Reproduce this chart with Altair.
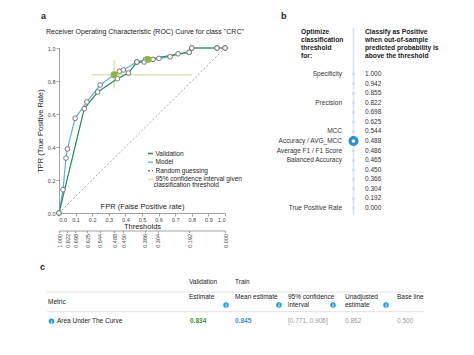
import altair as alt
import pandas as pd

FONT = "Liberation Sans"

# ---------------- data ----------------
model_fpr = [0.0, 0.024, 0.042, 0.051, 0.097, 0.168, 0.248, 0.332, 0.364, 0.388, 0.469, 0.521, 0.566, 0.602, 0.669, 0.717, 0.784, 0.800, 0.952, 1.0]
model_tpr = [0.0, 0.141, 0.333, 0.388, 0.574, 0.673, 0.776, 0.838, 0.859, 0.867, 0.915, 0.931, 0.931, 0.937, 0.947, 0.965, 0.974, 1.0, 1.0, 1.0]
val_fpr = [0.0, 0.152, 0.233, 0.352, 0.418, 0.469, 0.513, 0.536, 0.784, 0.800, 0.952, 1.0]
val_tpr = [0.0, 0.632, 0.733, 0.814, 0.848, 0.915, 0.915, 0.931, 0.974, 1.0, 1.0, 1.0]
opt_fpr = [0.332, 0.536]
opt_tpr = [0.838, 0.931]
ci_fpr_low, ci_fpr_high, ci_at_tpr = 0.20, 0.80, 0.838
ci_tpr_low, ci_tpr_high, ci_at_fpr = 0.755, 0.927, 0.332

series_names = ["Validation", "Model", "Random guessing",
                "95% confidence interval given classification threshold"]
series_colors = ["#2a8660", "#5ab3d3", "#8a7a6a", "#d9e6b4"]
series_dash = [[1, 0], [1, 0], [2, 2], [1, 0]]

thr_axis_fpr = [0.0, 0.051, 0.097, 0.17, 0.245, 0.332, 0.388, 0.517, 0.596, 0.784, 1.0]
thr_axis_labels = ["1.000", "0.822", "0.698", "0.625", "0.544", "0.488", "0.450",
                   "0.366", "0.304", "0.192", "0.000"]

thresholds = ["1.000", "0.942", "0.855", "0.822", "0.698", "0.625", "0.544", "0.488",
              "0.486", "0.465", "0.450", "0.366", "0.304", "0.192", "0.000"]
metric_labels = ["Specificity", "", "", "Precision", "", "", "MCC", "Accuracy / AVG_MCC",
                 "Average F1 / F1 Score", "Balanced Accuracy", "", "", "", "", "True Positive Rate"]
selected_row = 7

metric_name = "Area Under The Curve"
val_estimate = "0.834"
train_mean = "0.845"
ci_text = "[0.771, 0.906]"
unadjusted = "0.862"
baseline = "0.500"

# ---------------- frames ----------------
lines_df = pd.DataFrame({
    "fpr": model_fpr + val_fpr,
    "tpr": model_tpr + val_tpr,
    "series": ["Model"] * len(model_fpr) + ["Validation"] * len(val_fpr),
    "order": list(range(len(model_fpr))) + list(range(len(val_fpr))),
})
diag_df = pd.DataFrame({"fpr": [0, 1], "tpr": [0, 1], "series": ["Random guessing"] * 2})
ci_h_df = pd.DataFrame({"fpr": [ci_fpr_low], "fpr2": [ci_fpr_high], "tpr": [ci_at_tpr], "series": [series_names[3]]})
ci_v_df = pd.DataFrame({"fpr": [ci_at_fpr], "tpr": [ci_tpr_low], "tpr2": [ci_tpr_high], "series": [series_names[3]]})
opt_df = pd.DataFrame({"fpr": opt_fpr, "tpr": opt_tpr})
thr_df = pd.DataFrame({"fpr": thr_axis_fpr})
rows_df = pd.DataFrame({"row": list(range(len(thresholds))), "threshold": thresholds, "metric": metric_labels})
lab_df = rows_df[rows_df["metric"] != ""]
sel_df = rows_df[rows_df["row"] == selected_row]

# ---------------- scales / encodings ----------------
xs = alt.Scale(domain=[0, 1], nice=False)
ys = alt.Scale(domain=[0, 1], nice=False)
row_scale = alt.Scale(domain=[0, len(thresholds) - 1], range=[26, 160], nice=False, zero=False)

legend = alt.Legend(
    title=None, orient="none", legendX=88, legendY=102, symbolType="stroke",
    symbolSize=25, symbolStrokeWidth=1.4, labelFontSize=6.5, labelFont=FONT,
    labelColor="#222", rowPadding=1.6, labelOffset=1.5, padding=0,
    labelExpr="datum.label == '95% confidence interval given classification threshold' ? '95% confidence interval given' : datum.label",
    labelBaseline="middle", labelLimit=200,
)
color_enc = alt.Color("series:N", scale=alt.Scale(domain=series_names, range=series_colors), legend=legend)
dash_enc = alt.StrokeDash("series:N", scale=alt.Scale(domain=series_names, range=series_dash), legend=legend)

fpr_axis = alt.Axis(values=[i / 10 for i in range(11)], format=".1f", title="FPR (False Positive rate)",
                    titleY=-3, titleBaseline="bottom", titleFontSize=7.5, titleFontWeight="normal",
                    labelFontSize=5.5, tickSize=3, labelPadding=1, grid=False)
tpr_axis = alt.Axis(values=[0, 0.2, 0.4, 0.6, 0.8, 1.0], format=".1f", title="TPR (True Positive Rate)",
                    titleFontSize=7.5, titleFontWeight="normal", labelFontSize=5.5, tickSize=3,
                    labelPadding=1, titlePadding=3, grid=False)
label_expr = "{}[indexof({}, datum.value)]".format(
    "[" + ",".join("'" + s + "'" for s in thr_axis_labels) + "]",
    "[" + ",".join(str(v) for v in thr_axis_fpr) + "]")
thr_axis = alt.Axis(values=thr_axis_fpr, orient="bottom", offset=17.5, labelExpr=label_expr,
                    labelAngle=270, labelFontSize=5.5, tickSize=2, labelPadding=1,
                    title="Thresholds", titleY=0, titleBaseline="bottom", titleFontSize=7.5,
                    titleFontWeight="normal", grid=False, labelOverlap=False)

X_none = lambda f: alt.X(f, scale=xs, axis=None)
Y_none = lambda f: alt.Y(f, scale=ys, axis=None)

# ---------------- panel a ----------------
diag = alt.Chart(diag_df).mark_line(strokeWidth=0.7).encode(
    x=alt.X("fpr:Q", scale=xs, axis=fpr_axis), y=alt.Y("tpr:Q", scale=ys, axis=tpr_axis),
    color=color_enc, strokeDash=dash_enc)
ci_h = alt.Chart(ci_h_df).mark_rule(strokeWidth=1.5).encode(
    x=X_none("fpr:Q"), x2="fpr2:Q", y=Y_none("tpr:Q"), color=color_enc, strokeDash=dash_enc)
ci_v = alt.Chart(ci_v_df).mark_rule(strokeWidth=1.5).encode(
    x=X_none("fpr:Q"), y=Y_none("tpr:Q"), y2="tpr2:Q", color=color_enc, strokeDash=dash_enc)
curves = alt.Chart(lines_df).mark_line(strokeWidth=1.2).encode(
    x=X_none("fpr:Q"), y=Y_none("tpr:Q"), order="order:Q", color=color_enc, strokeDash=dash_enc)
pts = alt.Chart(lines_df).mark_point(filled=True, fill="white", stroke="#6a6a6a", size=22,
                                     strokeWidth=0.9, opacity=1).encode(
    x=X_none("fpr:Q"), y=Y_none("tpr:Q"))
opt = alt.Chart(opt_df).mark_circle(size=48, color="#8ab64a", opacity=1).encode(
    x=X_none("fpr:Q"), y=Y_none("tpr:Q"))
thr = alt.Chart(thr_df).mark_point(opacity=0).encode(
    x=alt.X("fpr:Q", scale=xs, axis=thr_axis), y=alt.value(0))


def txt(text, x, y, size=7.0, weight="normal", align="left", baseline="middle", color="#222", line_height=8):
    return alt.Chart(pd.DataFrame({"k": [0]})).mark_text(
        align=align, baseline=baseline, fontSize=size, fontWeight=weight, color=color,
        lineHeight=line_height, font=FONT).encode(x=alt.value(x), y=alt.value(y), text=alt.value(text))


title_a = txt('Receiver Operating Characteristic (ROC) Curve for class "CRC"', 86, -16, size=7, align="center")
label_a = txt("a", -18, -32, size=9, weight="bold")
legend_line2 = txt("classification threshold", 94.5, 137, size=6.5)

# ---------------- panel b ----------------
label_b = txt("b", 222, -32, size=9, weight="bold")
head_l = txt(["Optimize", "classification", "threshold", "for:"], 242, -19.5, size=6.7, weight="bold", baseline="top")
head_r = txt(["Classify as Positive", "when out-of-sample", "predicted probability is", "above the threshold"],
             306, -19.5, size=6.7, weight="bold", baseline="top")
vline = alt.Chart(pd.DataFrame({"k": [0]})).mark_rule(color="#d2e3f2", strokeWidth=1.5).encode(
    x=alt.value(294.5), y=alt.value(-20), y2=alt.value(167))
row_dots = alt.Chart(rows_df).mark_circle(size=9, color="#c9def1", opacity=1).encode(
    x=alt.value(294.5), y=alt.Y("row:Q", scale=row_scale, axis=None))
sel_outer = alt.Chart(sel_df).mark_circle(size=100, color="#2b8bd3", opacity=1).encode(
    x=alt.value(294.5), y=alt.Y("row:Q", scale=row_scale, axis=None))
sel_inner = alt.Chart(sel_df).mark_circle(size=14, color="white", opacity=1).encode(
    x=alt.value(294.5), y=alt.Y("row:Q", scale=row_scale, axis=None))
row_vals = alt.Chart(rows_df).mark_text(align="left", baseline="middle", fontSize=6.5, color="#333", font=FONT).encode(
    x=alt.value(306), y=alt.Y("row:Q", scale=row_scale, axis=None), text="threshold:N")
row_labs = alt.Chart(lab_df).mark_text(align="right", baseline="middle", fontSize=6.5, color="#333", font=FONT).encode(
    x=alt.value(283), y=alt.Y("row:Q", scale=row_scale, axis=None), text="metric:N")

# ---------------- panel c ----------------
label_c = txt("c", -19, 219, size=9, weight="bold")


def hline(y):
    return alt.Chart(pd.DataFrame({"k": [0]})).mark_rule(color="#e2e2e2", strokeWidth=1).encode(
        x=alt.value(-12), x2=alt.value(365), y=alt.value(y))


def icon(x, y):
    c = alt.Chart(pd.DataFrame({"k": [0]})).mark_circle(size=30, color="#1f9bd8", opacity=1).encode(
        x=alt.value(x), y=alt.value(y))
    t = txt("i", x, y + 0.3, size=5, weight="bold", align="center", color="white")
    return [c, t]


table = [
    txt("Validation", 130, 234, size=6.5),
    txt("Train", 176, 234, size=6.5),
    hline(244),
    txt("Metric", -11, 253.7, size=6.5),
    txt("Estimate", 130, 249, size=6.5),
    txt("Mean estimate", 176, 249, size=6.5),
    txt(["95% confidence", "interval"], 229, 246, size=6.5, baseline="top"),
    txt(["Unadjusted", "estimate"], 286, 246, size=6.5, baseline="top"),
    txt("Base line", 338, 249, size=6.5),
    hline(263.7),
    txt(metric_name, -2, 273.3, size=6.5),
    txt(val_estimate, 131, 273.3, size=6.5, weight="bold", color="#3a8f3e"),
    txt(train_mean, 176, 273.3, size=6.5, weight="bold", color="#4a8fcc"),
    txt(ci_text, 229, 273.3, size=6.5, color="#9a9a9a"),
    txt(unadjusted, 286, 273.3, size=6.5, color="#9a9a9a"),
    txt(baseline, 338, 273.3, size=6.5, color="#9a9a9a"),
]
for (ix, iy) in [(167, 257), (220, 257), (274, 257), (327, 257), (-7.5, 273.3)]:
    table += icon(ix, iy)

layers = [ci_h, ci_v, diag, curves, pts, opt, thr, title_a, label_a, legend_line2,
          label_b, head_l, head_r, vline, row_dots, sel_outer, sel_inner, row_vals, row_labs,
          label_c] + table

chart = alt.layer(*layers).resolve_scale(y="independent").resolve_axis(
    x="independent", y="independent").properties(
    width=166, height=165,
    autosize=alt.AutoSizeParams(type="none"),
    padding={"left": 59, "top": 48, "right": 249, "bottom": 142},
    background="white",
).configure_view(strokeWidth=0).configure_axis(
    labelFont=FONT, titleFont=FONT, domainColor="#8a8a8a", tickColor="#8a8a8a",
    labelColor="#444", titleColor="#222", domainWidth=0.8, tickWidth=0.8,
).configure_text(font=FONT)

chart.save("out.html", embed_options={"renderer": "svg", "actions": False})
